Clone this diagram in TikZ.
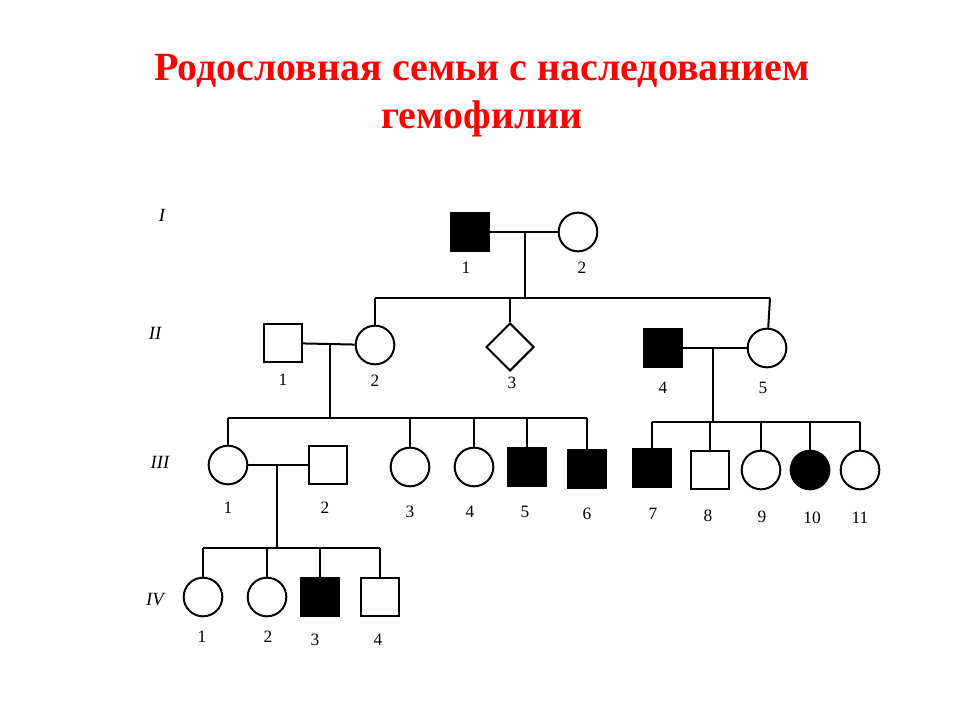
\documentclass[tikz,border=0pt]{standalone}
\usepackage{fontspec}
\setmainfont{Liberation Serif}
\usetikzlibrary{shapes.geometric}
\begin{document}
\begin{tikzpicture}[x=0.75pt,y=-0.75pt,line width=1.5pt,
  male/.style={draw,rectangle,minimum size=28pt,inner sep=0pt},
  female/.style={draw,circle,minimum size=29pt,inner sep=0pt},
  aff/.style={fill=black},
  unk/.style={draw,diamond,minimum size=36pt,inner sep=0pt},
  lab/.style={font=\fontsize{13}{13}\selectfont},
  gen/.style={font=\itshape\fontsize{14}{14}\selectfont}]
\useasboundingbox[fill=white] (0,0) rectangle (960,720);
\node[text=red,font=\bfseries\fontsize{30}{36}\selectfont,align=center] (title) at (482,96) {Родословная семьи с наследованием\\гемофилии};
% generation labels
\node[gen] (g1) at (162,215) {I};
\node[gen] (g2) at (155,333) {II};
\node[gen] (g3) at (160,462) {III};
\node[gen] (g4) at (155,600) {IV};
% Gen I
\node[male,aff] (i1) at (470,232) {};
\node[female] (i2) at (578,232) {};
\node[lab] at (466,268) {1};
\node[lab] at (582,268) {2};
\draw (i1) -- (i2);
\coordinate (m1) at (525,232);
\coordinate (s1) at (525,298);
\draw (m1) -- (s1);
\coordinate (s1a) at (375,298); \coordinate (s1b) at (510,298); \coordinate (s1c) at (770,298);
\draw (s1a) -- (s1c);
% Gen II
\node[male] (ii1) at (283,343) {};
\node[female] (ii2) at (375,345) {};
\node[unk] (ii3) at (510,347) {};
\node[male,aff] (ii4) at (663,348) {};
\node[female] (ii5) at (767,348) {};
\node[lab] at (283,380) {1};
\node[lab] at (375,381) {2};
\node[lab] at (512,383) {3};
\node[lab] at (663,388) {4};
\node[lab] at (763,388) {5};
\draw (s1a) -- (ii2); \draw (s1b) -- (ii3); \draw (s1c) -- (ii5);
\draw (ii1) -- (ii2); \draw (ii4) -- (ii5);
\coordinate (m2) at (330,345); \coordinate (s2) at (330,418);
\draw (m2) -- (s2);
\coordinate (m3) at (713,348); \coordinate (s3) at (713,422);
\draw (m3) -- (s3);
% Gen III
\node[female] (iii1) at (228,465) {};
\node[male] (iii2) at (328,465) {};
\node[female] (iii3) at (410,467) {};
\node[female] (iii4) at (474,467) {};
\node[male,aff] (iii5) at (527,467) {};
\node[male,aff] (iii6) at (587,469) {};
\node[male,aff] (iii7) at (652,468) {};
\node[male] (iii8) at (710,470) {};
\node[female] (iii9) at (761,470) {};
\node[female,aff] (iii10) at (810,470) {};
\node[female] (iii11) at (860,470) {};
\foreach \n/\x/\y in {1/228/508,2/325/508,3/410/512,4/470/512,5/525/512,6/587/514,7/653/514,8/708/516,9/762/517,10/812/518,11/860/518}
  \node[lab] at (\x,\y) {\n};
\draw (228,418) -- (587,418);
\foreach \c/\x in {iii1/228,iii3/410,iii4/474,iii5/527,iii6/587} \draw (\x,418) -- (\c);
\draw (652,422) -- (860,422);
\foreach \c/\x in {iii7/652,iii8/710,iii9/761,iii10/810,iii11/860} \draw (\x,422) -- (\c);
\draw (iii1) -- (iii2);
\coordinate (m4) at (277,465); \coordinate (s4) at (277,548);
\draw (m4) -- (s4);
% Gen IV
\node[female] (iv1) at (203,597) {};
\node[female] (iv2) at (267,597) {};
\node[male,aff] (iv3) at (320,597) {};
\node[male] (iv4) at (380,597) {};
\foreach \n/\x/\y in {1/202/637,2/268/637,3/315/640,4/378/640}
  \node[lab] at (\x,\y) {\n};
\draw (203,548) -- (380,548);
\foreach \c/\x in {iv1/203,iv2/267,iv3/320,iv4/380} \draw (\x,548) -- (\c);
\end{tikzpicture}
\end{document}
